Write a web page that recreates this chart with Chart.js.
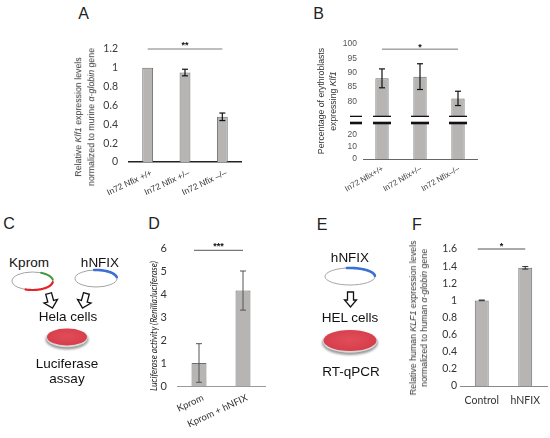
<!DOCTYPE html>
<html>
<head>
<meta charset="utf-8">
<script src="https://cdn.jsdelivr.net/npm/chart.js@4.4.1/dist/chart.umd.min.js"></script>
<style>
  body { margin: 0; width: 550px; height: 438px; background: #fff; position: relative; overflow: hidden;
         font-family: "Liberation Sans", Arial, sans-serif; }
  .box { position: absolute; }
  .t { position: absolute; transform: translate(-50%, -50%); white-space: nowrap; text-align: center; color: #111; }
  #art { position: absolute; left: 0; top: 0; }
</style>
</head>
<body>
<svg id="art" width="550" height="438" xmlns="http://www.w3.org/2000/svg">
  <defs>
    <filter id="blur" x="-20%" y="-40%" width="140%" height="180%"><feGaussianBlur stdDeviation="1.2"/></filter>
    <radialGradient id="dish" cx="50%" cy="45%" r="60%">
      <stop offset="0" stop-color="#e24c59"/>
      <stop offset="1" stop-color="#d53c4a"/>
    </radialGradient>
  </defs>
</svg>
<script>
// panel A
const catsA = ['In72 Nfix +/+', 'In72 Nfix +/\u2013', 'In72 Nfix \u2013/\u2013'];
const valsA = [1.0, 0.95, 0.48];
const errA = [0, 0.035, 0.04];
const ticksA = [0, 0.2, 0.4, 0.6, 0.8, 1, 1.2];

// panel B (broken axis)
const catsB = ['In72 Nfix+/+', 'In72 Nfix+/\u2013', 'In72 Nfix\u2013/\u2013'];
const valsB = [88.0, 88.6, 81.0];
const errB = [3.3, 4.5, 2.5];
const ticksBTop = [80, 85, 90, 95, 100];
const ticksBLow = [0, 10, 20];

// panel D
const catsD = ['Kprom', 'Kprom + hNFIX'];
const valsD = [1.0, 4.15];
const errD = [0.84, 0.85];
const ticksD = [0, 1, 2, 3, 4, 5, 6];

// panel F
const catsF = ['Control', 'hNFIX'];
const valsF = [1.0, 1.38];
const errF = [0.004, 0.015];
const ticksF = [0, 0.2, 0.4, 0.6, 0.8, 1, 1.2, 1.4, 1.6];

const barFill = '#b7b4b4';
const barEdge = '#6f6d6d';

function zeroPad(s) {
    s.paddingLeft = 0; s.paddingRight = 0; s.paddingTop = 0; s.paddingBottom = 0;
}

function line(ctx, x1, y1, x2, y2) {
    ctx.beginPath(); ctx.moveTo(x1, y1); ctx.lineTo(x2, y2); ctx.stroke();
}

function drawExtras(chart, o) {
    const ctx = chart.ctx, ca = chart.chartArea;
    const x = chart.scales.x, y = chart.scales.y;
    ctx.save();
    if (o.err) {
        ctx.strokeStyle = o.errColor || '#111';
        ctx.lineWidth = o.errWidth || 1.2;
        o.vals.forEach(function(v, i) {
            const e = o.err[i];
            if (!e) return;
            const px = x.getPixelForValue(i);
            const y1 = y.getPixelForValue(v + e), y2 = y.getPixelForValue(v - e);
            line(ctx, px, y1, px, y2);
            line(ctx, px - o.cap, y1, px + o.cap, y1);
            line(ctx, px - o.cap, y2, px + o.cap, y2);
        });
    }
    if (o.sig) {
        const s = o.sig;
        const x1 = x.getPixelForValue(s.from) + (s.dx1 || 0), x2 = x.getPixelForValue(s.to) + (s.dx2 || 0);
        const py = y.getPixelForValue(s.v);
        ctx.strokeStyle = s.color; ctx.lineWidth = s.width;
        line(ctx, x1, py, x2, py);
        ctx.fillStyle = '#111';
        ctx.font = s.font;
        ctx.textAlign = 'center'; ctx.textBaseline = 'alphabetic';
        ctx.fillText(s.text, (x1 + x2) / 2, py + s.ty);
    }
    if (o.brk) {
        const yb = o.brk === 'bottom' ? ca.bottom : ca.top;
        ctx.strokeStyle = '#111'; ctx.lineWidth = 2.6;
        line(ctx, ca.left - 13, yb, ca.left - 1, yb);
        o.vals.forEach(function(v, i) {
            const px = x.getPixelForValue(i);
            line(ctx, px - 9, yb, px + 9, yb);
        });
    }
    ctx.restore();
}

function makeBarChart(o) {
    const box = document.createElement('div');
    box.className = 'box';
    box.style.left = (o.left - o.mL) + 'px';
    box.style.top = (o.top - o.mT) + 'px';
    box.style.width = (o.right - o.left + o.mL + o.mR) + 'px';
    box.style.height = (o.bottom - o.top + o.mT + o.mB) + 'px';
    const cv = document.createElement('canvas');
    box.appendChild(cv);
    document.body.appendChild(box);
    return new Chart(cv, {
        type: 'bar',
        data: {
            labels: o.cats,
            datasets: [{
                data: o.vals,
                backgroundColor: barFill,
                borderColor: barEdge,
                borderWidth: 1,
                borderSkipped: 'start',
                barPercentage: o.barPct,
                categoryPercentage: 1
            }]
        },
        options: {
            responsive: true,
            maintainAspectRatio: false,
            animation: false,
            layout: { padding: { left: 0, top: o.mT, right: o.mR, bottom: 0 } },
            plugins: { legend: { display: false }, tooltip: { enabled: false } },
            scales: {
                x: {
                    display: o.xShow,
                    grid: { display: false, drawTicks: false },
                    border: { display: true, color: o.axisColor, width: o.axisWidth },
                    ticks: {
                        autoSkip: false,
                        maxRotation: o.rot, minRotation: o.rot,
                        padding: o.xPad,
                        labelOffset: o.xOff || 0,
                        color: o.xColor,
                        font: o.xFont
                    },
                    afterFit: function(s) { s.height = o.mB; zeroPad(s); }
                },
                y: {
                    min: o.min, max: o.max,
                    grid: { display: false, drawTicks: false },
                    border: { display: false },
                    ticks: {
                        padding: o.yPad,
                        color: o.yColor,
                        font: o.yFont,
                        callback: function(v) { return String(Math.round(v * 10) / 10); }
                    },
                    afterBuildTicks: function(s) { s.ticks = o.ticks.map(function(v) { return { value: v }; }); },
                    afterFit: function(s) { s.width = o.mL; zeroPad(s); }
                }
            }
        },
        plugins: [{ id: 'extras', afterDatasetsDraw: function(chart) { drawExtras(chart, o); } }]
    });
}

const calibri = 'Lato, "Open Sans", sans-serif';
const arial = '"Liberation Sans", Arial, sans-serif';

// A
makeBarChart({
    left: 129, right: 241, top: 49, bottom: 162, mL: 100, mT: 10, mR: 15, mB: 50,
    cats: catsA, vals: valsA, err: errA, ticks: ticksA, min: 0, max: 1.2,
    barPct: 0.29, xShow: true, rot: 25, xPad: 6, xOff: 4, yPad: 11,
    axisColor: '#222', axisWidth: 1.5,
    xColor: '#333', xFont: { family: arial, size: 8.6 },
    yColor: '#3a3a3a', yFont: { family: calibri, size: 10.5 },
    cap: 3, errColor: '#111', errWidth: 1.2,
    sig: { from: 0, to: 2, v: 1.2, text: '**', color: '#a8a8a8', width: 1.6, font: 'bold 9px ' + arial, ty: -1 }
});

// B upper part
makeBarChart({
    left: 363, right: 477, top: 44, bottom: 117, mL: 80, mT: 8, mR: 10, mB: 0,
    cats: catsB, vals: valsB, err: errB, ticks: ticksBTop, min: 74.5, max: 100,
    barPct: 0.35, xShow: false, rot: 30, xPad: 4, yPad: 6,
    axisColor: '#777', axisWidth: 1,
    xColor: '#444', xFont: { family: arial, size: 8 },
    yColor: '#555', yFont: { family: arial, size: 8.5 },
    cap: 3, errColor: '#111', errWidth: 1.2,
    sig: { from: 0, to: 2, v: 98.2, text: '*', color: '#777', width: 1, font: 'bold 9px ' + arial, ty: 1 },
    brk: 'bottom'
});

// B lower part
makeBarChart({
    left: 363, right: 477, top: 123, bottom: 159, mL: 80, mT: 4, mR: 10, mB: 55,
    cats: catsB, vals: valsB, err: null, ticks: ticksBLow, min: 0, max: 30,
    barPct: 0.35, xShow: true, rot: 30, xPad: 5, xOff: 1, yPad: 6,
    axisColor: '#666', axisWidth: 1,
    xColor: '#444', xFont: { family: arial, size: 8 },
    yColor: '#555', yFont: { family: arial, size: 8.5 },
    brk: 'top'
});

// D
makeBarChart({
    left: 177, right: 265, top: 248, bottom: 386, mL: 60, mT: 8, mR: 12, mB: 52,
    cats: catsD, vals: valsD, err: errD, ticks: ticksD, min: 0, max: 6,
    barPct: 0.34, xShow: true, rot: 25, xPad: 6, xOff: 4, yPad: 10,
    axisColor: '#9a9a9a', axisWidth: 1,
    xColor: '#333', xFont: { family: calibri, size: 9.5 },
    yColor: '#333', yFont: { family: calibri, size: 11 },
    cap: 3, errColor: '#555', errWidth: 1,
    sig: { from: 0, to: 1, v: 5.9, text: '***', color: '#555', width: 1, dx1: -5, font: 'bold 9px ' + arial, ty: -1 }
});

// F
makeBarChart({
    left: 460, right: 547, top: 249, bottom: 386, mL: 40, mT: 8, mR: 3, mB: 30,
    cats: catsF, vals: valsF, err: errF, ticks: ticksF, min: 0, max: 1.6,
    barPct: 0.32, xShow: true, rot: 0, xPad: 8, yPad: 3,
    axisColor: '#8a8a8a', axisWidth: 1,
    xColor: '#333', xFont: { family: calibri, size: 10.5 },
    yColor: '#333', yFont: { family: calibri, size: 10.5 },
    cap: 3, errColor: '#333', errWidth: 1,
    sig: { from: 0, to: 1, v: 1.6, text: '*', color: '#555', width: 1, dx1: -4, font: 'bold 9px ' + arial, ty: 0 }
});

// text: panel letters, axis titles, diagram captions
function addText(html, cx, cy, css) {
    const d = document.createElement('div');
    d.className = 't';
    d.innerHTML = html;
    d.style.left = cx + 'px';
    d.style.top = cy + 'px';
    Object.assign(d.style, css || {});
    document.body.appendChild(d);
    return d;
}
function addYTitle(html, cx, cy, css) {
    const d = addText(html, cx, cy, Object.assign({ color: '#333' }, css));
    d.style.transform = 'translate(-50%, -50%) rotate(-90deg)';
    return d;
}

[['A', 83.5, 13.5], ['B', 318.5, 13.5], ['C', 9, 224], ['D', 154, 224], ['E', 322, 224.5], ['F', 417, 224.5]]
    .forEach(function(l) { addText(l[0], l[1], l[2], { fontSize: '16px', color: '#222' }); });

addYTitle('Relative <i>Klf1</i> expression levels<br>normalized to murine <i>\u03b1-globin</i> gene',
    85, 117, { fontSize: '8.8px', lineHeight: '12.8px' });
addYTitle('Percentage of erythroblasts<br>expressing <i>Klf1</i>',
    327.5, 101, { fontSize: '8.7px', lineHeight: '11.6px' });
addYTitle('<i>Luciferase activity (Renilla:luciferase)</i>',
    154, 326, { fontSize: '8.6px', fontFamily: calibri, color: '#222' });
addYTitle('Relative human <i>KLF1</i> expression levels<br>normalized to human <i>\u03b1-globin</i> gene',
    418.5, 318, { fontSize: '8.8px', lineHeight: '11px' });

const cap = { fontSize: '13.5px', color: '#111' };
addText('Kprom', 29, 262, cap);
addText('hNFIX', 100, 262, cap);
addText('Hela cells', 68, 315.5, cap);
addText('Luciferase', 67, 362.5, cap);
addText('assay', 67, 377.5, cap);
addText('hNFIX', 350, 257, cap);
addText('HEL cells', 350, 316.5, cap);
addText('RT-qPCR', 351, 371, cap);

// diagrams C and E
const svg = document.getElementById('art');
const NS = 'http://www.w3.org/2000/svg';
function el(tag, attrs) {
    const e = document.createElementNS(NS, tag);
    for (const k in attrs) e.setAttribute(k, attrs[k]);
    svg.appendChild(e);
    return e;
}
function arcPath(cx, cy, rx, ry, a0, a1) {
    let d = '';
    for (let a = a0; a <= a1 + 0.01; a += 2) {
        const t = a * Math.PI / 180;
        d += (d ? ' L' : 'M') + (cx + rx * Math.cos(t)).toFixed(2) + ' ' + (cy + ry * Math.sin(t)).toFixed(2);
    }
    return d;
}
function plasmid(cx, cy, rx, ry, arcs) {
    el('ellipse', { cx: cx, cy: cy, rx: rx, ry: ry, fill: 'none', stroke: '#a5a5a5', 'stroke-width': 1 });
    arcs.forEach(function(a) {
        el('path', { d: arcPath(cx, cy, rx, ry, a[0], a[1]), fill: 'none', stroke: a[2], 'stroke-width': a[3], 'stroke-linecap': 'round' });
    });
}
function arrow(tx, ty, ang, hw) {
    const pts = [[-3, -15], [3, -15], [3, -7], [hw, -7], [0, 0], [-hw, -7], [-3, -7]];
    el('polygon', {
        points: pts.map(function(p) { return p.join(','); }).join(' '),
        fill: '#fff', stroke: '#111', 'stroke-width': 1.3, 'stroke-linejoin': 'miter',
        transform: 'translate(' + tx + ',' + ty + ') rotate(' + ang + ')'
    });
}
function dish(cx, cy, rx, ry) {
    el('ellipse', { cx: cx, cy: cy + 2.5, rx: rx + 1.5, ry: ry + 1.5, fill: '#9a9a9a', filter: 'url(#blur)' });
    el('ellipse', { cx: cx, cy: cy + 1.2, rx: rx + 0.5, ry: ry + 0.5, fill: '#d8d8d8' });
    el('ellipse', { cx: cx, cy: cy, rx: rx, ry: ry, fill: 'url(#dish)' });
}

plasmid(32.5, 281, 20.5, 9, [[-65, -8, '#3f9a3f', 2], [8, 110, '#e8222c', 2.2]]);
plasmid(96, 278.5, 21, 8.5, [[-95, -8, '#3b6fd6', 2.6]]);
arrow(52.5, 308, -15, 7);
arrow(82.5, 308, 15, 7);
dish(67, 337, 20, 8.5);

plasmid(350, 276.5, 25, 8.5, [[-97, -4, '#3b6fd6', 2.6]]);
arrow(350.5, 307, 0, 6);
dish(350, 340.5, 26.5, 10.5);
</script>
</body>
</html>
